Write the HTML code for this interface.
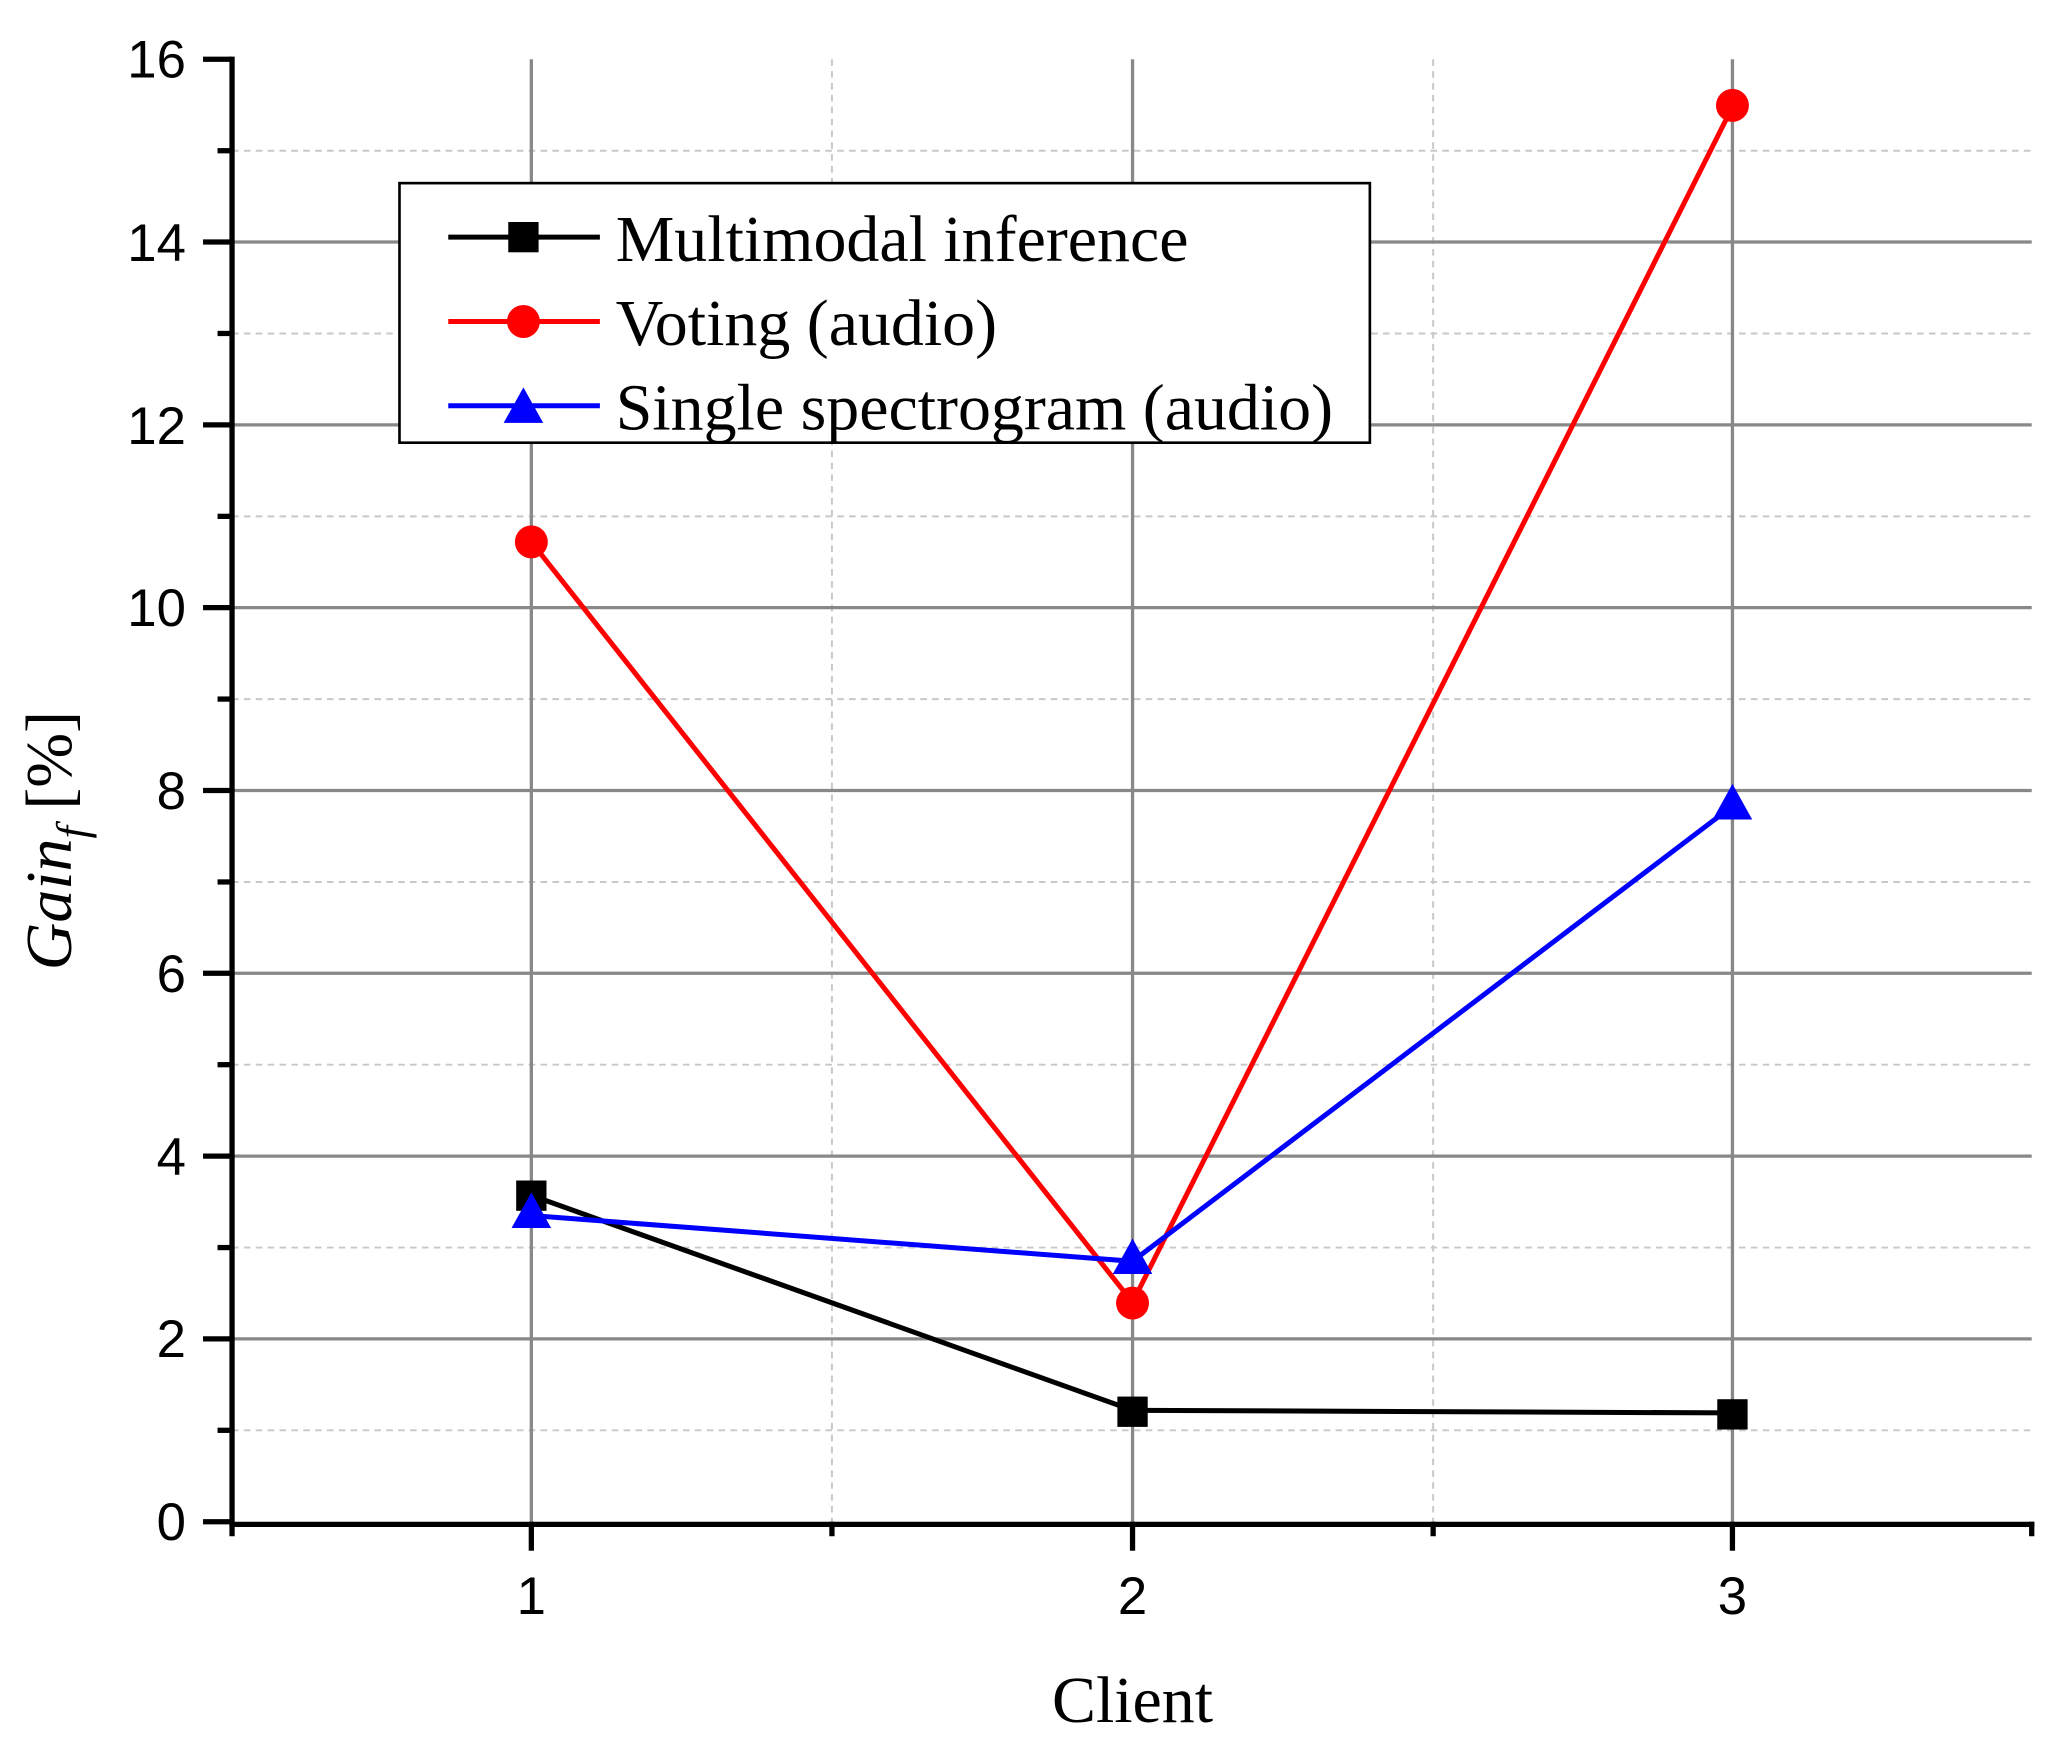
<!DOCTYPE html>
<html><head><meta charset="utf-8"><style>html,body{margin:0;padding:0;background:#fff}svg{display:block}</style></head>
<body>
<svg width="2066" height="1751" viewBox="0 0 1567 1329" preserveAspectRatio="none" xmlns="http://www.w3.org/2000/svg">
<rect width="1567" height="1329" fill="#fff"/>
<g stroke="#c8c8c8" stroke-width="1.5" stroke-dasharray="5,4">
<line x1="176" y1="114.4" x2="1541" y2="114.4"/>
<line x1="176" y1="253.1" x2="1541" y2="253.1"/>
<line x1="176" y1="391.9" x2="1541" y2="391.9"/>
<line x1="176" y1="530.6" x2="1541" y2="530.6"/>
<line x1="176" y1="669.4" x2="1541" y2="669.4"/>
<line x1="176" y1="808.1" x2="1541" y2="808.1"/>
<line x1="176" y1="946.9" x2="1541" y2="946.9"/>
<line x1="176" y1="1085.6" x2="1541" y2="1085.6"/>
<line x1="631" y1="45" x2="631" y2="1155"/>
<line x1="1087" y1="45" x2="1087" y2="1155"/>
</g>
<g stroke="#888" stroke-width="2.5">
<line x1="176" y1="183.7" x2="1541" y2="183.7"/>
<line x1="176" y1="322.5" x2="1541" y2="322.5"/>
<line x1="176" y1="461.2" x2="1541" y2="461.2"/>
<line x1="176" y1="600" x2="1541" y2="600"/>
<line x1="176" y1="738.7" x2="1541" y2="738.7"/>
<line x1="176" y1="877.5" x2="1541" y2="877.5"/>
<line x1="176" y1="1016.2" x2="1541" y2="1016.2"/>
<line x1="403" y1="45" x2="403" y2="1155"/>
<line x1="859" y1="45" x2="859" y2="1155"/>
<line x1="1314" y1="45" x2="1314" y2="1155"/>
</g>
<g stroke="#000" stroke-width="4" fill="none">
<line x1="176" y1="43" x2="176" y2="1157"/>
<line x1="174" y1="1157" x2="1543" y2="1157"/>
<line x1="154" y1="45" x2="176" y2="45"/><line x1="154" y1="183.7" x2="176" y2="183.7"/><line x1="154" y1="322.5" x2="176" y2="322.5"/><line x1="154" y1="461.2" x2="176" y2="461.2"/><line x1="154" y1="600" x2="176" y2="600"/><line x1="154" y1="738.7" x2="176" y2="738.7"/><line x1="154" y1="877.5" x2="176" y2="877.5"/><line x1="154" y1="1016.2" x2="176" y2="1016.2"/><line x1="154" y1="1155" x2="176" y2="1155"/>
<line x1="165" y1="114.4" x2="176" y2="114.4"/><line x1="165" y1="253.1" x2="176" y2="253.1"/><line x1="165" y1="391.9" x2="176" y2="391.9"/><line x1="165" y1="530.6" x2="176" y2="530.6"/><line x1="165" y1="669.4" x2="176" y2="669.4"/><line x1="165" y1="808.1" x2="176" y2="808.1"/><line x1="165" y1="946.9" x2="176" y2="946.9"/><line x1="165" y1="1085.6" x2="176" y2="1085.6"/>
<line x1="403" y1="1155" x2="403" y2="1177"/><line x1="859" y1="1155" x2="859" y2="1177"/><line x1="1314" y1="1155" x2="1314" y2="1177"/>
<line x1="176" y1="1155" x2="176" y2="1166"/><line x1="631" y1="1155" x2="631" y2="1166"/><line x1="1087" y1="1155" x2="1087" y2="1166"/><line x1="1541" y1="1155" x2="1541" y2="1166"/>
</g>
<g font-family="Liberation Sans, Arial, sans-serif" font-size="40" fill="#000" text-anchor="end">
<text x="141" y="59">16</text><text x="141" y="198">14</text><text x="141" y="337">12</text><text x="141" y="475">10</text><text x="141" y="614">8</text><text x="141" y="753">6</text><text x="141" y="892">4</text><text x="141" y="1030">2</text><text x="141" y="1169">0</text>
</g>
<g font-family="Liberation Sans, Arial, sans-serif" font-size="40" fill="#000" text-anchor="middle">
<text x="403" y="1225">1</text><text x="859" y="1225">2</text><text x="1314" y="1225">3</text>
</g>
<text x="859" y="1307" font-family="Liberation Serif, serif" font-size="50" text-anchor="middle">Client</text>
<text transform="translate(54,638) rotate(-90)" font-family="Liberation Serif, serif" font-size="50" text-anchor="middle"><tspan font-style="italic">Gain</tspan><tspan font-style="italic" font-size="34" dy="12">f</tspan><tspan dy="-12"> [%]</tspan></text>
<polyline points="403,907.3 859,1070.4 1314,1072.4" fill="none" stroke="#000" stroke-width="3.8"/>
<polyline points="403,411.3 859,988.5 1314,81.1" fill="none" stroke="#f00" stroke-width="3.8"/>
<polyline points="403,922.6 859,957.3 1314,611.8" fill="none" stroke="#00f" stroke-width="3.8"/>
<g fill="#000"><rect x="391.5" y="896" width="23" height="23"/><rect x="847.5" y="1060" width="23" height="23"/><rect x="1302.5" y="1062" width="23" height="23"/></g>
<g fill="#f00"><circle cx="403" cy="411.3" r="12.5"/><circle cx="859" cy="989" r="12.5"/><circle cx="1314" cy="80" r="12.5"/></g>
<g fill="#00f"><polygon points="403,905 388,932 418,932"/><polygon points="859,940 844,967 874,967"/><polygon points="1314,595 1299,622 1329,622"/></g>
<rect x="303" y="139" width="736" height="197" fill="#fff" stroke="#000" stroke-width="2"/>
<line x1="340" y1="180" x2="455" y2="180" stroke="#000" stroke-width="3.8"/><rect x="385.5" y="168.5" width="23" height="23" fill="#000"/>
<line x1="340" y1="244" x2="455" y2="244" stroke="#f00" stroke-width="3.8"/><circle cx="397" cy="244" r="12.5" fill="#f00"/>
<line x1="340" y1="308" x2="455" y2="308" stroke="#00f" stroke-width="3.8"/><polygon points="397,294 382,321 412,321" fill="#00f"/>
<g font-family="Liberation Serif, serif" font-size="50" fill="#000">
<text x="467" y="198">Multimodal inference</text>
<text x="467" y="262">Voting (audio)</text>
<text x="467" y="326">Single spectrogram (audio)</text>
</g>
</svg>
</body></html>
